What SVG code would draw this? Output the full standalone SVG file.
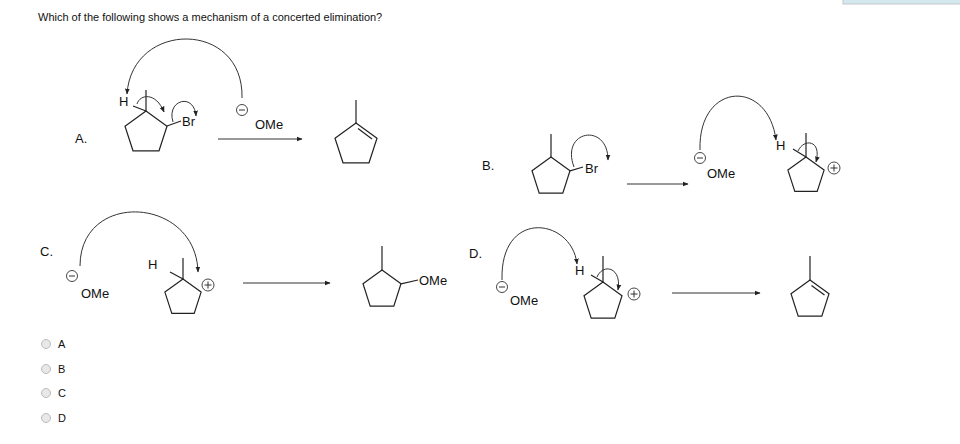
<svg xmlns="http://www.w3.org/2000/svg" width="960" height="444" viewBox="0 0 960 444">
<style>
.b{fill:none;stroke:#222;stroke-width:1.2}
.c{fill:none;stroke:#333;stroke-width:1}
.t{font-family:"Liberation Sans",Arial,sans-serif;font-size:13px;fill:#111}
.s{font-family:"Liberation Sans",Arial,sans-serif;font-size:11px;fill:#111}
.ch{fill:#fff;stroke:#333;stroke-width:0.9}
</style>
<defs>
<marker id="ah" viewBox="0 0 10 10" refX="9" refY="5" markerWidth="6" markerHeight="6" orient="auto" markerUnits="userSpaceOnUse"><path d="M0,1 L10,5 L0,9 z" fill="#222"/></marker>
<symbol id="minus" viewBox="-6 -6 12 12" overflow="visible"><circle r="5.5" class="ch"/><line x1="-3" y1="0" x2="3" y2="0" stroke="#333"/></symbol>
<symbol id="plus" viewBox="-7 -7 14 14" overflow="visible"><circle r="6" class="ch"/><path d="M-3.5,0H3.5M0,-3.5V3.5" stroke="#333"/></symbol>
</defs>
<rect x="843" y="-2" width="120" height="6" fill="#d4e8f0" stroke="#bbb" stroke-width="0.8"/>
<text class="s" x="38" y="21">Which of the following shows a mechanism of a concerted elimination?</text>

<g id="A">
<text class="t" x="75" y="143">A.</text>
<polygon class="b" points="146,111 167,126.2 159,150.8 133,150.8 125,126.2"/>
<line class="b" x1="146" y1="111" x2="146" y2="90"/>
<line class="b" x1="146" y1="111" x2="133" y2="106"/>
<text class="t" x="119" y="106">H</text>
<line class="b" x1="167" y1="126" x2="181" y2="121"/>
<text class="t" x="182" y="126">Br</text>
<text class="t" x="255" y="129">OMe</text>
<use href="#minus" x="236" y="104" width="12" height="12"/>
<path class="c" d="M137,104 C140,94 156,92 164,112" marker-end="url(#ah)"/>
<path class="c" d="M173,122 C166,100 194,92 196,116" marker-end="url(#ah)"/>
</g>
<g id="Aprod">
<polygon class="b" points="356,123 377,138.2 369,162.8 343,162.8 335,138.2"/>
<line class="b" x1="358" y1="128.5" x2="372" y2="139"/>
<line class="b" x1="356" y1="123" x2="356" y2="100"/>
</g>

<g id="B">
<text class="t" x="482" y="170">B.</text>
<polygon class="b" points="551,157 570,170.8 562.8,193.2 539.2,193.2 532,170.8"/>
<line class="b" x1="551" y1="157" x2="551" y2="134"/>
<line class="b" x1="570" y1="170.8" x2="583" y2="167"/>
<text class="t" x="585" y="173">Br</text>
<path class="c" d="M574,167 C560,130 608,122 608,160" marker-end="url(#ah)"/>
</g>
<g id="Bright">
<use href="#minus" x="694" y="152" width="12" height="12"/>
<text class="t" x="707" y="178">OMe</text>
<polygon class="b" points="806,157 824.1,170.1 817.2,191.4 794.8,191.4 787.9,170.1"/>
<line class="b" x1="806" y1="157" x2="806" y2="133"/>
<line class="b" x1="806" y1="157" x2="793" y2="149"/>
<text class="t" x="776" y="150">H</text>
<path class="c" d="M798,151 C804,138 822,140 816,162" marker-end="url(#ah)"/>
<use href="#plus" x="827" y="161" width="14" height="14"/>
</g>

<g id="C">
<text class="t" x="40" y="256">C.</text>
<use href="#minus" x="66" y="270" width="12" height="12"/>
<text class="t" x="81" y="298">OMe</text>
<polygon class="b" points="183,279 201.1,292.1 194.2,313.4 171.8,313.4 164.9,292.1"/>
<line class="b" x1="183" y1="279" x2="183" y2="258"/>
<line class="b" x1="183" y1="279" x2="170" y2="272"/>
<text class="t" x="148" y="269">H</text>
<use href="#plus" x="201" y="278" width="14" height="14"/>
</g>
<g id="Cprod">
<polygon class="b" points="382,270 401,283.8 393.8,306.2 370.2,306.2 363,283.8"/>
<line class="b" x1="382" y1="270" x2="382" y2="246"/>
<line class="b" x1="401" y1="283.8" x2="418" y2="280"/>
<text class="t" x="419" y="285">OMe</text>
</g>

<g id="D">
<text class="t" x="469" y="258">D.</text>
<use href="#minus" x="496" y="281" width="12" height="12"/>
<text class="t" x="510" y="305">OMe</text>
<polygon class="b" points="603,282 622,295.8 614.8,318.2 591.2,318.2 584,295.8"/>
<line class="b" x1="603" y1="282" x2="603" y2="256"/>
<line class="b" x1="603" y1="282" x2="591" y2="275"/>
<text class="t" x="575" y="275">H</text>
<path class="c" d="M597,277 C603,263 622,267 618,290" marker-end="url(#ah)"/>
<use href="#plus" x="627" y="287" width="14" height="14"/>
</g>
<g id="Dprod">
<polygon class="b" points="810,280 829,293.8 821.8,316.2 798.2,316.2 791,293.8"/>
<line class="b" x1="811.5" y1="285.5" x2="824.5" y2="295"/>
<line class="b" x1="810" y1="280" x2="810" y2="256"/>
</g>

<g id="connectors">
<path class="c" d="M242,98 C244,20 132,20 127,94" marker-end="url(#ah)"/>
<line class="c" x1="218" y1="139" x2="302" y2="139" marker-end="url(#ah)"/>
<line class="c" x1="627" y1="184" x2="688" y2="184" marker-end="url(#ah)"/>
<path class="c" d="M700,150 C698,82 768,78 776,140" marker-end="url(#ah)"/>
<path class="c" d="M80,266 C80,190 196,196 198,272" marker-end="url(#ah)"/>
<line class="c" x1="243" y1="283" x2="330" y2="283" marker-end="url(#ah)"/>
<path class="c" d="M502,280 C500,208 572,218 577,264" marker-end="url(#ah)"/>
<line class="c" x1="672" y1="293" x2="760" y2="293" marker-end="url(#ah)"/>
</g>

<g id="choices">
<circle cx="46" cy="344" r="4.5" fill="#e8e8e8" stroke="#bbb"/>
<circle cx="46" cy="369" r="4.5" fill="#e8e8e8" stroke="#bbb"/>
<circle cx="46" cy="393" r="4.5" fill="#e8e8e8" stroke="#bbb"/>
<circle cx="46" cy="418" r="4.5" fill="#e8e8e8" stroke="#bbb"/>
<text class="s" x="58" y="348">A</text>
<text class="s" x="58" y="373">B</text>
<text class="s" x="58" y="397">C</text>
<text class="s" x="58" y="422">D</text>
</g>
</svg>
